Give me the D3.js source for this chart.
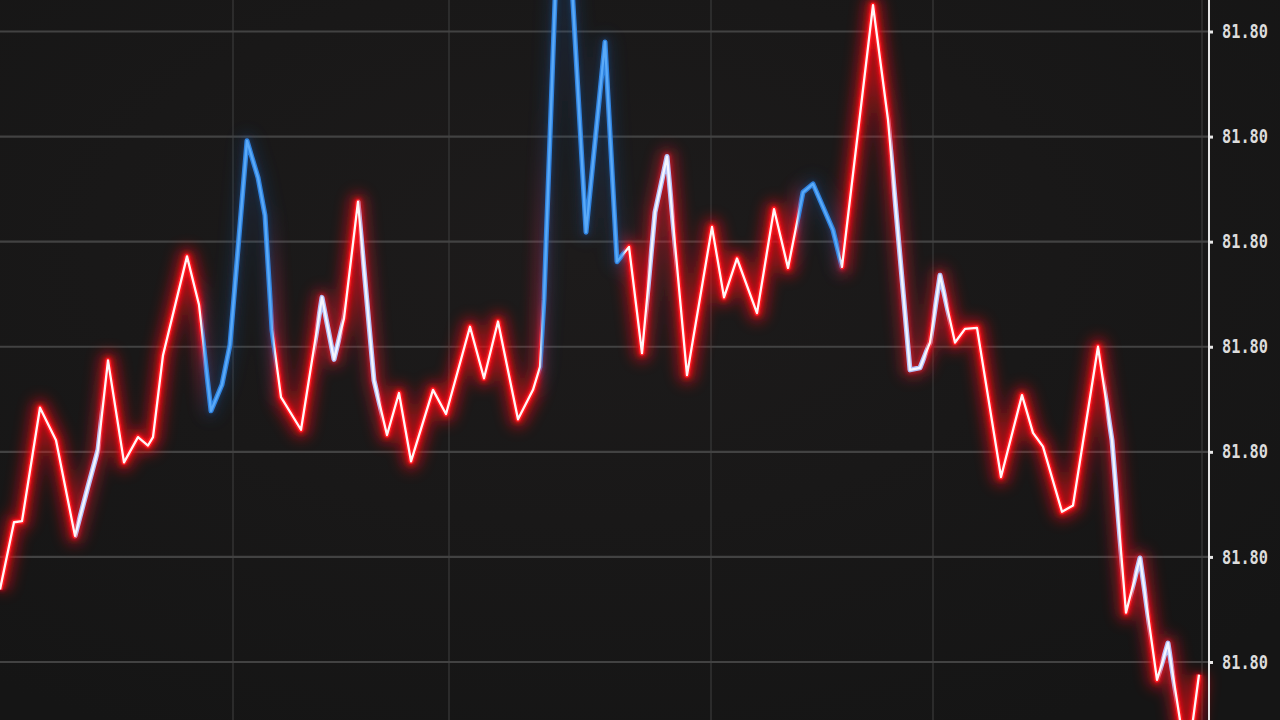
<!DOCTYPE html>
<html>
<head>
<meta charset="utf-8">
<script src="https://cdn.jsdelivr.net/npm/d3@7/dist/d3.min.js"></script>
<style>
  html, body { margin: 0; padding: 0; background: #181818; }
  svg { display: block; }
</style>
</head>
<body>
<svg id="chart" width="1280" height="720"></svg>
<script>
// ---- data ----
const xValues = [0, 2.8, 4.4, 8, 11.2, 15, 17.6, 19.6, 21.6, 24.8, 27.6, 29.6, 30.6, 32.6, 37.4, 39.8,
  42.2, 44.4, 46, 49.4, 51.6, 53, 54.4, 56.2, 60.2, 64.4, 66.8, 68.8, 71.6, 74.8, 77.4, 79.8, 82.2,
  86.6, 89.2, 94, 96.8, 99.6, 103.6, 106.6, 108, 108.8, 112.4, 117.2, 121, 123.4, 125.8, 128.4, 131,
  133.4, 137.4, 142.4, 144.8, 147.4, 151.4, 154.8, 157.6, 160.6, 162.6, 166.6, 168.4, 174.6, 177.6,
  182, 184, 186, 188, 191, 193, 195.4, 200.2, 204.4, 206.6, 208.6, 212.4, 214.6, 219.6, 222.4, 225.2,
  228, 231.4, 233.6, 237.4, 239.8];
const yValues = [0.69, 1.33, 1.34, 2.42, 2.11, 1.20, 1.67, 2.02, 2.87, 1.90, 2.14, 2.06, 2.14, 2.92, 3.86, 3.40,
  2.39, 2.64, 3.02, 4.96, 4.61, 4.25, 3.16, 2.52, 2.21, 3.47, 2.88, 3.27, 4.38, 2.68, 2.16, 2.56, 1.91,
  2.59, 2.36, 3.19, 2.70, 3.24, 2.31, 2.59, 2.81, 3.45, 8.11, 4.09, 5.90, 3.81, 3.95, 2.94, 4.28,
  4.81, 2.73, 4.14, 3.47, 3.84, 3.32, 4.31, 3.75, 4.47, 4.55, 4.11, 3.76, 6.25, 5.16,
  2.78, 2.80, 3.04, 3.68, 3.04, 3.17, 3.18, 1.76, 2.54, 2.18, 2.05, 1.43, 1.49, 3.00, 2.11, 0.47,
  0.99, -0.17, 0.18, -0.98, -0.12];
// stretches of the line that turn blue (x units), with tone
const toneStarts = [15.6, 41, 63.6, 72.4, 108.6, 130, 160, 178.6, 186.8, 221.6, 227, 232.6];
const toneEnds   = [19.6, 54.4, 68, 75.6, 124.4, 134.4, 167.6, 185, 189.2, 223.6, 229.2, 234.4];
const toneKinds  = ["pale", "blue", "pale", "pale", "blue", "pale", "blue", "pale", "pale", "pale", "pale", "pale"];
const yTicks = [0, 1, 2, 3, 4, 5, 6];
const tickLabels = ["81.80", "81.80", "81.80", "81.80", "81.80", "81.80", "81.80"];
const xGrid = [46.6, 89.8, 142.2, 186.6, 240.4];

// ---- layout ----
const W = 1280, H = 720;
const axisX = 1209;
const svg = d3.select("#chart");

const x = d3.scaleLinear().domain([0, 240]).range([0, 1200]);
const y = d3.scaleLinear().domain([0, 6]).range([662, 31.5]);

const defs = svg.append("defs");

// background
const bg = defs.append("radialGradient").attr("id", "bg").attr("cx", "45%").attr("cy", "35%").attr("r", "75%");
bg.append("stop").attr("offset", "0%").attr("stop-color", "#1d1b1b");
bg.append("stop").attr("offset", "100%").attr("stop-color", "#151515");
svg.append("rect").attr("width", W).attr("height", H).attr("fill", "url(#bg)");

// grid
svg.append("g").selectAll("line").data(xGrid).join("line")
  .attr("x1", d => x(d)).attr("x2", d => x(d)).attr("y1", 0).attr("y2", H)
  .attr("stroke", "#333333").attr("stroke-width", 1.5);
svg.append("g").selectAll("line").data(yTicks).join("line")
  .attr("x1", 0).attr("x2", axisX).attr("y1", d => y(d)).attr("y2", d => y(d))
  .attr("stroke", "#424242").attr("stroke-width", 2.2);

// gradients along x for the line colour
const palettes = {
  glow: { red: ["#ff0716", 1], blue: ["#1e5fb0", 0.3], pale: ["#ff1a30", 0.7] },
  edge: { red: ["#ff1a22", 1], blue: ["#2f83e0", 1], pale: ["#b3bff5", 1] },
  core: { red: ["#fff6f6", 1], blue: ["#5aaaf8", 1], pale: ["#f4f6ff", 1] }
};
function makeGrad(id, pal) {
  const g = defs.append("linearGradient").attr("id", id)
    .attr("gradientUnits", "userSpaceOnUse")
    .attr("x1", x(0)).attr("x2", x(240)).attr("y1", 0).attr("y2", 0);
  const span = x(240) - x(0);
  const stops = [[0, "red"]];
  toneStarts.forEach((s, i) => {
    const a = x(s), b = x(toneEnds[i]), k = toneKinds[i];
    stops.push([a - 4, "red"], [a, k], [b, k], [b + 4, "red"]);
  });
  stops.push([span, "red"]);
  stops.forEach(([px, k]) => {
    g.append("stop").attr("offset", Math.max(0, Math.min(1, px / span)))
      .attr("stop-color", pal[k][0]).attr("stop-opacity", pal[k][1]);
  });
}
makeGrad("gGlow", palettes.glow);
makeGrad("gEdge", palettes.edge);
makeGrad("gCore", palettes.core);

const blur = defs.append("filter").attr("id", "blur")
  .attr("x", "-10%").attr("y", "-10%").attr("width", "120%").attr("height", "120%");
blur.append("feGaussianBlur").attr("stdDeviation", 7);
const blur2 = defs.append("filter").attr("id", "blur2")
  .attr("x", "-10%").attr("y", "-10%").attr("width", "120%").attr("height", "120%");
blur2.append("feGaussianBlur").attr("stdDeviation", 2.2);

const pts = xValues.map((v, i) => [v, yValues[i]]);
const line = d3.line().x(d => x(d[0])).y(d => y(d[1])).curve(d3.curveLinear);
const pathD = line(pts);

const lg = svg.append("g");
lg.append("path").attr("d", pathD).attr("fill", "none")
  .attr("stroke", "url(#gGlow)").attr("stroke-width", 18).attr("stroke-linejoin", "round")
  .attr("filter", "url(#blur)").attr("opacity", 0.55);
lg.append("path").attr("d", pathD).attr("fill", "none")
  .attr("stroke", "url(#gGlow)").attr("stroke-width", 8).attr("stroke-linejoin", "round")
  .attr("filter", "url(#blur2)").attr("opacity", 0.8);
lg.append("path").attr("d", pathD).attr("fill", "none")
  .attr("stroke", "url(#gEdge)").attr("stroke-width", 5).attr("stroke-linejoin", "round");
lg.append("path").attr("d", pathD).attr("fill", "none")
  .attr("stroke", "url(#gCore)").attr("stroke-width", 2.3).attr("stroke-linejoin", "round");

// right axis
svg.append("line").attr("x1", axisX).attr("x2", axisX).attr("y1", 0).attr("y2", H)
  .attr("stroke", "#e6e6e6").attr("stroke-width", 2);
const axis = d3.axisRight(y).tickValues(yTicks).tickSize(4).tickPadding(9)
  .tickFormat((d, i) => tickLabels[i]);
const ag = svg.append("g").attr("transform", `translate(${axisX},0)`).call(axis);
ag.select(".domain").remove();
ag.selectAll(".tick line").attr("stroke", "#e6e6e6").attr("stroke-width", 3);
ag.selectAll(".tick text")
  .attr("fill", "#dcdcdc")
  .attr("font-family", "'DejaVu Sans Mono', 'Liberation Mono', monospace")
  .attr("font-size", 19)
  .attr("font-weight", "bold")
  .attr("textLength", 46).attr("lengthAdjust", "spacingAndGlyphs");
</script>
</body>
</html>
